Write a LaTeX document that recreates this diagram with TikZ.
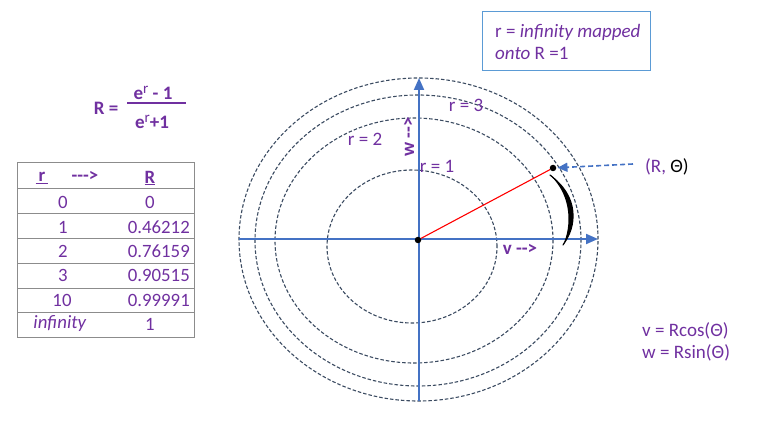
\documentclass[tikz,border=0pt]{standalone}
\usepackage{fontspec}
\setmainfont{Carlito}
\usetikzlibrary{arrows.meta}
\definecolor{txtpurple}{HTML}{7030A0}
\definecolor{axisblue}{HTML}{4472C4}
\definecolor{boxblue}{HTML}{5B9BD5}
\definecolor{ringcol}{HTML}{3B4B61}
\definecolor{gridgray}{HTML}{8C8C8C}
\newcommand{\hy}{\mbox{-}}
\begin{document}
\begin{tikzpicture}[x=1pt,y=-1pt,
  lbl/.style={text=txtpurple, font=\fontsize{19}{22}\selectfont, inner sep=0pt},
  tcell/.style={text=txtpurple, font=\fontsize{18.8}{22}\selectfont, inner sep=0pt},
  ring/.style={draw=ringcol, dash pattern=on 3.5pt off 2pt, line width=1.1pt},
  axisline/.style={draw=axisblue, line width=1.9pt, -{Triangle[length=12pt,width=10pt]}},
  gridline/.style={draw=gridgray, line width=0.7pt},
  dotnode/.style={circle, fill=black, inner sep=0pt, minimum size=6.5pt}]
\useasboundingbox (0,0) rectangle (767,435);

% rings
\draw[ring] (418.5,239.5) ellipse [x radius=179.5pt, y radius=161.5pt];
\draw[ring] (418,240.5) ellipse [x radius=163pt, y radius=145.5pt];
\draw[ring] (414,240.5) ellipse [x radius=139pt, y radius=122.5pt];
\draw[ring] (412,246.5) ellipse [x radius=85pt, y radius=76.5pt];

% axes
\coordinate (hL) at (239,239);
\coordinate (hR) at (598,239);
\coordinate (vB) at (419,401);
\coordinate (vT) at (419,78);
\draw[axisline] (hL) -- (hR);
\draw[axisline] (vB) -- (vT);

% ring labels
\node[lbl] (r3) at (466,105) {r = 3};
\node[lbl] (r2) at (365,139) {r = 2};
\node[lbl] (r1) at (437,166) {r = 1};
\node[lbl, rotate=90, font=\fontsize{19}{22}\selectfont\bfseries] (wax) at (409,137) {w \hy\hy>};
\node[lbl, font=\fontsize{19}{22}\selectfont\bfseries] (vax) at (520,249) {v \hy\hy>};

% radius
\node[dotnode] (O) at (418,240) {};
\node[dotnode] (P) at (553,168) {};
\draw[red, line width=1.1pt] (O) -- (P);

% angle bracket
\fill[black] (550,175) .. controls (580,195) and (578,228) .. (563,245)
             .. controls (571,228) and (573,197) .. (550,175);
\draw[black, line width=1.2pt, line cap=round] (550,175) .. controls (577,196) and (575,228) .. (563,245);

% (R, Theta) label and pointer
\node[lbl, anchor=west] (RT) at (645,167) {(R, \textcolor{black}{Θ)}};
\coordinate (a1) at (633,164);
\draw[axisblue, line width=1.6pt, dash pattern=on 5pt off 3pt, -{Triangle[length=10pt,width=9pt]}, shorten >=1pt] (a1) -- (P);

% mapping box
\node[draw=boxblue, line width=1pt, minimum width=168pt, minimum height=59pt, inner sep=0pt] (mapbox) at (566,41.5) {};
\node[lbl, anchor=west] (m1) at (495,32) {r = \textit{infinity mapped}};
\node[lbl, anchor=west] (m2) at (495,53) {\textit{onto} R =1};

% formula
\node[lbl, font=\fontsize{19}{22}\selectfont\bfseries] (Req) at (106,108) {R =};
\node[lbl, font=\fontsize{19}{22}\selectfont\bfseries] (num) at (153,93) {e\raisebox{6.5pt}{\fontsize{15}{15}\selectfont\mdseries r} - 1};
\node[lbl, font=\fontsize{19}{22}\selectfont\bfseries] (den) at (152,122) {e\raisebox{6.5pt}{\fontsize{15}{15}\selectfont\mdseries r}+1};
\draw[txtpurple, line width=1.4pt] (127,103) -- (186,103);

% table
\draw[gridline] (17,162) rectangle (194,337);
\foreach \yy in {188,213,238,263,288,312} \draw[gridline] (17,\yy) -- (194,\yy);
\node[tcell, font=\fontsize{18.8}{22}\selectfont\bfseries] (hr) at (42,178) {\underline{\,r\,}};
\node[tcell, font=\fontsize{18.8}{22}\selectfont\bfseries] (harr) at (85,176) {\hy\hy\hy>};
\node[tcell, font=\fontsize{18.8}{22}\selectfont\bfseries] (hR) at (150,178) {\underline{R}};
\node[tcell] (c10) at (63,202) {0};
\node[tcell] (c11) at (63,227) {1};
\node[tcell] (c12) at (63,251) {2};
\node[tcell] (c13) at (63,275) {3};
\node[tcell] (c14) at (62,300) {10};
\node[tcell] (c15) at (60,324) {\textit{infinity}};
\node[tcell] (c20) at (150,202) {0};
\node[tcell, anchor=east] (c21) at (190,227) {0.46212};
\node[tcell, anchor=east] (c22) at (190,251) {0.76159};
\node[tcell, anchor=east] (c23) at (190,275) {0.90515};
\node[tcell, anchor=east] (c24) at (190,300) {0.99991};
\node[tcell] (c25) at (150,324) {1};

% equations
\node[lbl, anchor=west] (eqv) at (642,331) {v = Rcos(Θ)};
\node[lbl, anchor=west] (eqw) at (642,353) {w = Rsin(Θ)};
\end{tikzpicture}
\end{document}
